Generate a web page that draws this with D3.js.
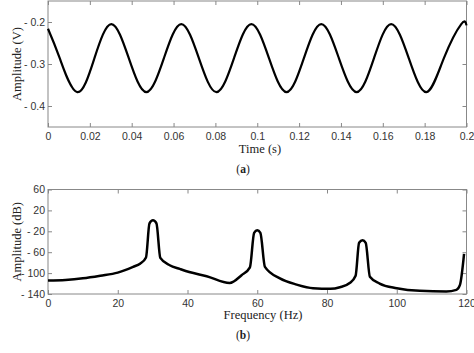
<!DOCTYPE html>
<html>
<head>
<meta charset="utf-8">
<script src="https://cdn.jsdelivr.net/npm/d3@7"></script>
<style>
    body { margin: 0; background: #fff; }
    svg { display: block; font-family: 'Liberation Serif', 'Times New Roman', serif; }
    .axis text { font-size: 10.5px; fill: #333; }
    .axis line { stroke: #888; }
    .frame { fill: none; stroke: #888; stroke-width: 1; }
    .axis-title { font-size: 12.5px; fill: #222; }
    .panel-label { font-size: 11.5px; fill: #222; }
    .trace { fill: none; stroke: #000; stroke-linejoin: round; }
</style>
</head>
<body>
<div id="chart"></div>
<script>
// (a) time signal at peaks, troughs and midpoints
const timeValues = [0, 0.0056, 0.0140, 0.0222, 0.0303, 0.0386, 0.0470, 0.0554, 0.0637, 0.0721,
    0.0805, 0.0889, 0.0972, 0.1056, 0.1140, 0.1223, 0.1306, 0.1390, 0.1475, 0.1558,
    0.1640, 0.1724, 0.1808, 0.1892, 0.1975, 0.2000]
const voltValues = [-0.216, -0.286, -0.367, -0.286, -0.205, -0.286, -0.367, -0.286, -0.205, -0.286,
    -0.367, -0.286, -0.205, -0.286, -0.367, -0.286, -0.205, -0.286, -0.367, -0.286,
    -0.205, -0.286, -0.367, -0.286, -0.205, -0.208]
const timeTicks = [0, 0.02, 0.04, 0.06, 0.08, 0.1, 0.12, 0.14, 0.16, 0.18, 0.2]
const voltTicks = [-0.4, -0.3, -0.2]

// (b) spectrum
const freqValues = [0, 5, 10, 15, 20, 24.4, 26.4, 28.1, 29.1, 30.1, 31.1, 32.2, 34.9, 37.8, 40.5,
    45.5, 52.1, 55.5, 57.9, 59.1, 60, 60.9, 62.2, 66.5, 71.3, 76, 81, 83.7, 86.5, 88.2,
    89.2, 90.2, 91.1, 92.3, 95.1, 100, 106.6, 114.2, 117.1, 118.1, 119.3]
const dbValues = [-114, -113, -110, -105, -99, -88, -82, -70, -5, 1, -5, -71, -85, -92, -98,
    -106, -119, -104, -89, -23, -18, -23, -88, -110, -122, -129, -130, -127, -119, -105,
    -42, -37, -42, -107, -120, -129, -134, -135, -132, -123, -63]
const freqTicks = [0, 20, 40, 60, 80, 100, 120]
const dbTicks = [-140, -100, -60, -20, 20, 60]

const width = 474
const height = 353

const svg = d3.select('#chart').append('svg')
    .attr('width', width)
    .attr('height', height)

const fmtSigned = d => d < 0 ? `- ${Math.abs(d)}` : `${d}`

function drawPanel(cfg) {
    const left = 48, right = 466.5
    const x = d3.scaleLinear().domain(cfg.xDomain).range([left, right])
    const y = d3.scaleLinear().domain(cfg.yDomain).range([cfg.bottom, cfg.top])

    const g = svg.append('g')

    // inward ticks on all four sides, labels only bottom/left
    g.append('g')
        .attr('class', 'axis')
        .attr('transform', `translate(0,${cfg.bottom})`)
        .call(d3.axisBottom(x).tickValues(cfg.xTicks).tickSize(-4).tickPadding(6).tickFormat(d => `${d}`))
        .call(a => a.select('.domain').remove())
    g.append('g')
        .attr('class', 'axis')
        .attr('transform', `translate(0,${cfg.top})`)
        .call(d3.axisTop(x).tickValues(cfg.xTicks).tickSize(-4).tickFormat(''))
        .call(a => a.select('.domain').remove())
    g.append('g')
        .attr('class', 'axis')
        .attr('transform', `translate(${left},0)`)
        .call(d3.axisLeft(y).tickValues(cfg.yTicks).tickSize(-4).tickPadding(3).tickFormat(fmtSigned))
        .call(a => a.select('.domain').remove())
    g.append('g')
        .attr('class', 'axis')
        .attr('transform', `translate(${right},0)`)
        .call(d3.axisRight(y).tickValues(cfg.yTicks).tickSize(-4).tickFormat(''))
        .call(a => a.select('.domain').remove())

    g.append('rect')
        .attr('class', 'frame')
        .attr('x', left)
        .attr('y', cfg.top)
        .attr('width', right - left)
        .attr('height', cfg.bottom - cfg.top)

    const line = d3.line()
        .x(i => x(cfg.xs[i]))
        .y(i => y(cfg.ys[i]))
        .curve(cfg.curve)

    g.append('path')
        .attr('class', 'trace')
        .attr('stroke-width', cfg.strokeWidth)
        .attr('d', line(d3.range(cfg.xs.length)))

    g.append('text')
        .attr('class', 'axis-title')
        .attr('text-anchor', 'middle')
        .attr('x', cfg.xTitleX)
        .attr('y', cfg.xTitleY)
        .text(cfg.xTitle)

    g.append('text')
        .attr('class', 'axis-title')
        .attr('text-anchor', 'middle')
        .attr('transform', `translate(21,${(cfg.top + cfg.bottom) / 2}) rotate(-90)`)
        .text(cfg.yTitle)

    const lab = g.append('text')
        .attr('class', 'panel-label')
        .attr('text-anchor', 'middle')
        .attr('x', 243)
        .attr('y', cfg.labelY)
    lab.append('tspan').text('(')
    lab.append('tspan').attr('font-weight', 'bold').text(cfg.label)
    lab.append('tspan').text(')')
}

drawPanel({
    top: 1, bottom: 127,
    xDomain: [0, 0.2], yDomain: [-0.45, -0.15],
    xTicks: timeTicks, yTicks: voltTicks,
    xs: timeValues, ys: voltValues,
    curve: d3.curveNatural, strokeWidth: 2.2,
    xTitle: 'Time (s)', xTitleX: 260, xTitleY: 153,
    yTitle: 'Amplitude (V)',
    label: 'a', labelY: 173
})

drawPanel({
    top: 189.5, bottom: 294,
    xDomain: [0, 120], yDomain: [-140, 60],
    xTicks: freqTicks, yTicks: dbTicks,
    xs: freqValues, ys: dbValues,
    curve: d3.curveMonotoneX, strokeWidth: 2.5,
    xTitle: 'Frequency (Hz)', xTitleX: 263, xTitleY: 319,
    yTitle: 'Amplitude (dB)',
    label: 'b', labelY: 339
})
</script>
</body>
</html>
